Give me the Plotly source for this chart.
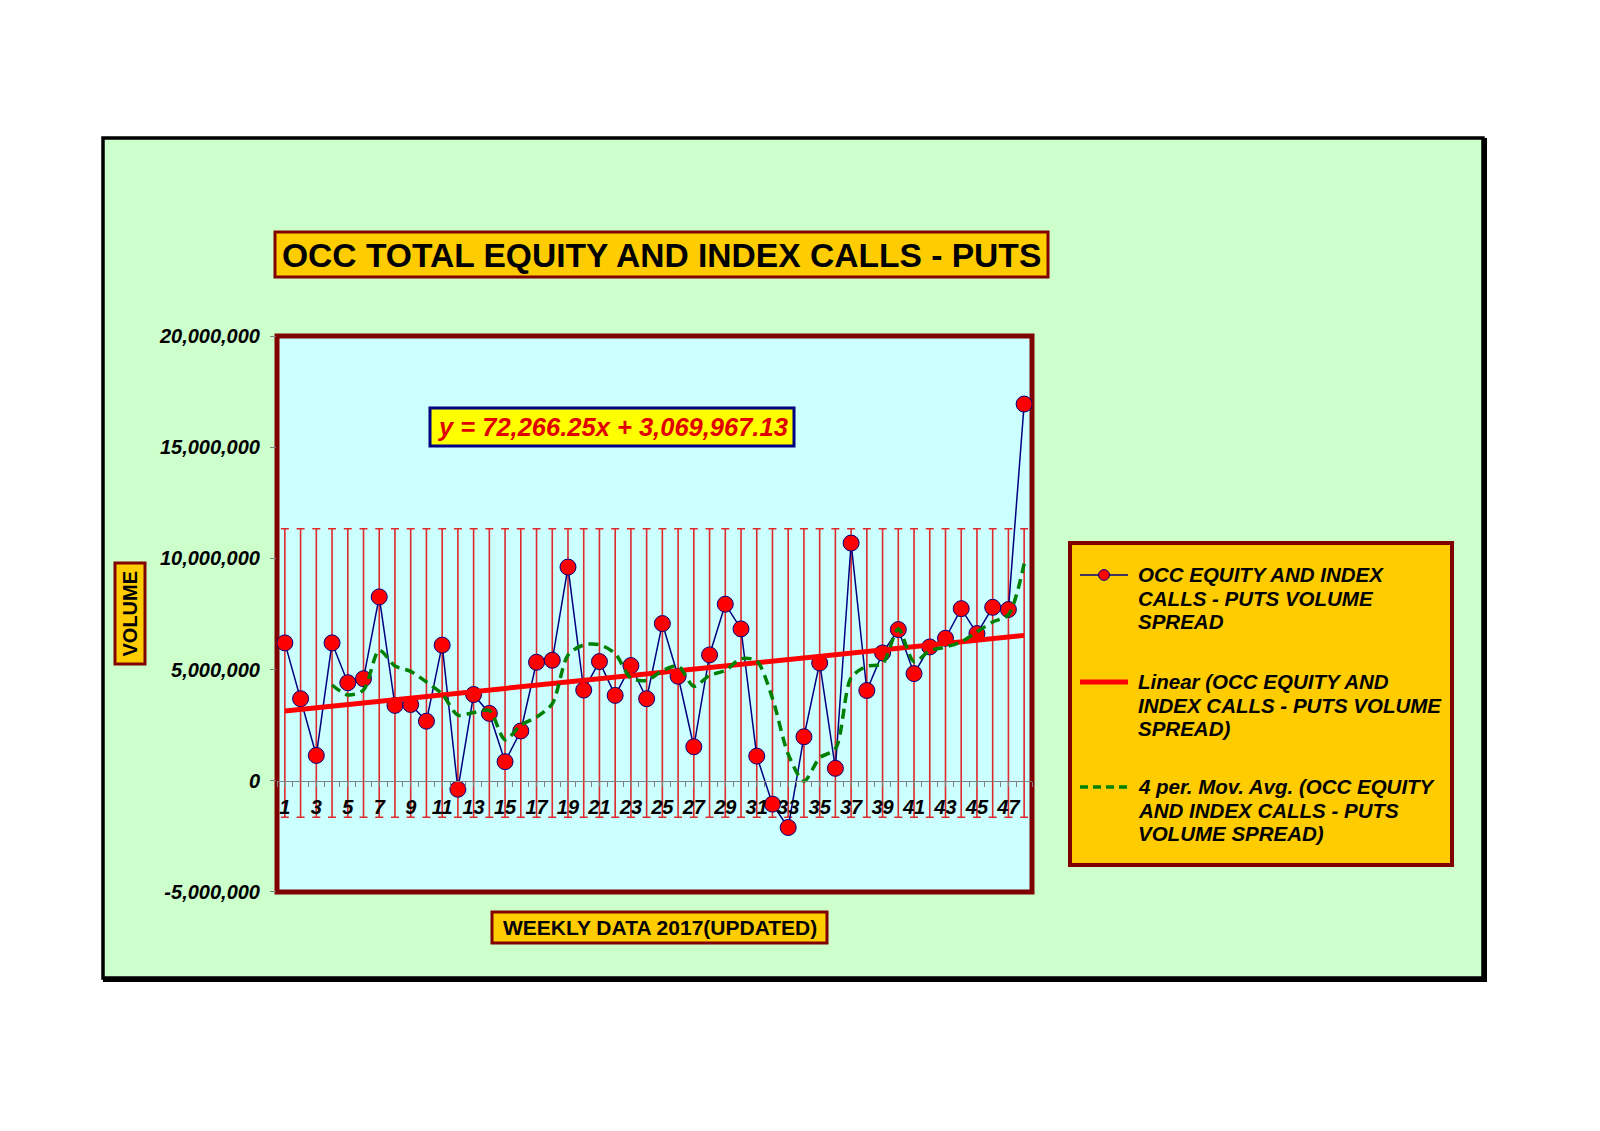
import plotly.graph_objects as go
import pandas as pd

W, H = 1600, 1131
FONT = "Liberation Sans, Arial, sans-serif"

# ---------------- data ----------------
WEEKS = list(range(1, 49))
SPREAD = [6200000, 3690000, 1140000, 6200000, 4410000, 4590000, 8270000, 3390000, 3430000, 2680000,
          6100000, -380000, 3880000, 3030000, 860000, 2240000, 5330000, 5420000, 9610000, 4080000,
          5360000, 3840000, 5180000, 3690000, 7070000, 4700000, 1530000, 5660000, 7940000, 6830000,
          1110000, -1050000, -2100000, 1980000, 5300000, 560000, 10690000, 4060000, 5750000, 6800000,
          4820000, 6020000, 6410000, 7740000, 6620000, 7800000, 7700000, 16940000]
TREND_SLOPE = 72266.25
TREND_INTERCEPT = 3069967.13
BAND_HIGH = 11330000
BAND_LOW = -1640000
MA_PERIOD = 4
Y_TICKS = [-5000000, 0, 5000000, 10000000, 15000000, 20000000]
X_LABEL_WEEKS = [w for w in WEEKS if w % 2 == 1]

LEGEND_SERIES = ["OCC EQUITY AND INDEX", "CALLS - PUTS VOLUME", "SPREAD"]
LEGEND_TREND = ["Linear (OCC EQUITY AND", "INDEX CALLS - PUTS VOLUME", "SPREAD)"]
LEGEND_MA = ["4 per. Mov. Avg. (OCC EQUITY", "AND INDEX CALLS - PUTS", "VOLUME SPREAD)"]
TITLE = "OCC TOTAL EQUITY AND INDEX CALLS - PUTS"
X_TITLE = "WEEKLY DATA 2017(UPDATED)"
Y_TITLE = "VOLUME"

# ---------------- derived ----------------
ma = pd.Series(SPREAD, dtype=float).rolling(MA_PERIOD).mean()
ma_x = [w for w, v in zip(WEEKS, ma) if pd.notna(v)]
ma_y = [v for v in ma if pd.notna(v)]
trend_x = [WEEKS[0], WEEKS[-1]]
trend_y = [TREND_SLOPE * x + TREND_INTERCEPT for x in trend_x]
band_center = (BAND_HIGH + BAND_LOW) / 2
band_half = (BAND_HIGH - BAND_LOW) / 2

# vertical layout scale (pixel positions measured on the reference)
V_SCALE = 1.0198
V_SHIFT = -11.2


def px(x):
    return x / W


def vy(y):
    return V_SCALE * y + V_SHIFT


def py(y):
    return 1 - vy(y) / H


Y_MIN, Y_MAX = -5000000, 20000000
XDOM = [px(277), px(1032)]
YDOM = [py(892), py(336)]
x_axis_pos = YDOM[0] + (0 - Y_MIN) / (Y_MAX - Y_MIN) * (YDOM[1] - YDOM[0])

NAVY = "#000080"
RED = "#FF0000"
GREEN = "#008000"
MAROON = "#800000"

fig = go.Figure()

# standard-deviation style error bars (constant band around the series mean)
fig.add_trace(go.Scatter(
    x=WEEKS, y=[band_center] * len(WEEKS), mode="markers",
    marker=dict(size=1, color="rgba(0,0,0,0)"),
    error_y=dict(type="constant", value=band_half, width=4, thickness=1.6, color="#DE2A2A"),
    showlegend=False, hoverinfo="skip"))

# main series
fig.add_trace(go.Scatter(
    x=WEEKS, y=SPREAD, mode="lines+markers", name=" ".join(LEGEND_SERIES),
    line=dict(color=NAVY, width=1.5),
    marker=dict(size=16, color=RED, line=dict(color=NAVY, width=1)),
    showlegend=False))

# linear trend
fig.add_trace(go.Scatter(
    x=trend_x, y=trend_y, mode="lines", name=" ".join(LEGEND_TREND),
    line=dict(color=RED, width=5), showlegend=False))

# moving average
fig.add_trace(go.Scatter(
    x=ma_x, y=ma_y, mode="lines", name=" ".join(LEGEND_MA),
    line=dict(color=GREEN, width=3.5, dash="10px,6px", shape="spline", smoothing=0.8),
    showlegend=False))


# ---------------- shapes ----------------
def rect(x0, y0, x1, y1, fill, line, lw):
    return dict(type="rect", xref="paper", yref="paper",
                x0=px(x0), x1=px(x1), y0=py(y1), y1=py(y0),
                fillcolor=fill, line=dict(color=line, width=lw), layer="below")


def hline(x0, x1, y, color, lw, dash="solid"):
    return dict(type="line", xref="paper", yref="paper",
                x0=px(x0), x1=px(x1), y0=py(y), y1=py(y),
                line=dict(color=color, width=lw, dash=dash), layer="above")


shapes = [
    rect(105, 140, 1485, 980, "#000000", "#000000", 4),
    rect(103, 138, 1483, 978, "#CCFFCC", "#000000", 3.5),
    rect(277, 336, 1032, 892, "#CCFFFF", MAROON, 5),
    rect(275, 232, 1048, 277, "#FFCC00", MAROON, 3),
    rect(430, 408, 794, 446, "#FFFF00", NAVY, 3),
    rect(492, 912, 827, 943, "#FFCC00", MAROON, 3),
    rect(115, 563, 145, 664, "#FFCC00", MAROON, 3),
    rect(1070, 543, 1452, 865, "#FFCC00", MAROON, 4),
]

# manual legend (symbols + text lines)
LEG_SYM_X0, LEG_SYM_X1, LEG_TEXT_X = 1080, 1128, 1136
LEG_ITEM_Y = [575, 682, 787]
LEG_LINE_PITCH = 23.5
shapes.append(hline(LEG_SYM_X0, LEG_SYM_X1, LEG_ITEM_Y[0], NAVY, 1.5))
cy = vy(LEG_ITEM_Y[0])
shapes.append(dict(type="circle", xref="paper", yref="paper",
                   x0=px(1104 - 5.5), x1=px(1104 + 5.5), y0=1 - (cy + 5.5) / H, y1=1 - (cy - 5.5) / H,
                   fillcolor=RED, line=dict(color=NAVY, width=1), layer="above"))
shapes.append(hline(LEG_SYM_X0, LEG_SYM_X1, LEG_ITEM_Y[1], RED, 5))
shapes.append(hline(LEG_SYM_X0, LEG_SYM_X1, LEG_ITEM_Y[2], GREEN, 3.5, dash="8px,5px"))

annotations = [
    dict(text=TITLE, x=px(661.5), y=py(255), xref="paper", yref="paper", showarrow=False,
         xanchor="center", yanchor="middle",
         font=dict(family=FONT, size=33.6, color="black", weight="bold")),
    dict(text=f"y = {TREND_SLOPE:,.2f}x + {TREND_INTERCEPT:,.2f}", x=px(612), y=py(427),
         xref="paper", yref="paper", showarrow=False, xanchor="center", yanchor="middle",
         font=dict(family=FONT, size=25.5, color="#E00000", weight="bold", style="italic")),
    dict(text=X_TITLE, x=px(659.5), y=py(928), xref="paper", yref="paper", showarrow=False,
         xanchor="center", yanchor="middle",
         font=dict(family=FONT, size=21, color="black", weight="bold")),
    dict(text=Y_TITLE, x=px(130), y=py(613.5), xref="paper", yref="paper", showarrow=False,
         xanchor="center", yanchor="middle", textangle=-90,
         font=dict(family=FONT, size=20, color="black", weight="bold")),
]

for item_y, lines in zip(LEG_ITEM_Y, [LEGEND_SERIES, LEGEND_TREND, LEGEND_MA]):
    for i, line in enumerate(lines):
        annotations.append(dict(
            text=line, x=px(LEG_TEXT_X), y=py(item_y + i * LEG_LINE_PITCH),
            xref="paper", yref="paper", showarrow=False, xanchor="left", yanchor="middle",
            font=dict(family=FONT, size=20.5, color="black", weight="bold", style="italic")))

tickvals = [w - 0.5 for w in WEEKS] + [WEEKS[-1] + 0.5] + X_LABEL_WEEKS
ticktext = [""] * (len(WEEKS) + 1) + [str(w) for w in X_LABEL_WEEKS]

fig.update_layout(
    width=W, height=H,
    margin=dict(l=0, r=0, t=0, b=0),
    paper_bgcolor="white",
    plot_bgcolor="rgba(0,0,0,0)",
    showlegend=False,
    shapes=shapes,
    annotations=annotations,
    xaxis=dict(
        domain=XDOM, range=[0.5, 48.5], anchor="free", position=x_axis_pos,
        showgrid=False, zeroline=False, showline=True, linecolor="#808080", linewidth=1,
        tickmode="array", tickvals=tickvals, ticktext=ticktext,
        ticks="outside", ticklen=5, tickcolor="#808080", tickwidth=1,
        ticklabelstandoff=3,
        tickfont=dict(family=FONT, size=20, color="black", weight="bold", style="italic"),
    ),
    yaxis=dict(
        domain=YDOM, range=[Y_MIN, Y_MAX], anchor="x",
        showgrid=False, zeroline=False, showline=False,
        tickmode="array", tickvals=Y_TICKS, ticktext=[f"{v:,}" for v in Y_TICKS],
        ticks="outside", ticklen=6, tickcolor="#808080", tickwidth=1,
        ticklabelstandoff=6,
        tickfont=dict(family=FONT, size=20, color="black", weight="bold", style="italic"),
    ),
)

fig.write_html("out.html", config={"displayModeBar": False},
               post_script="document.body.style.margin='0px';")
